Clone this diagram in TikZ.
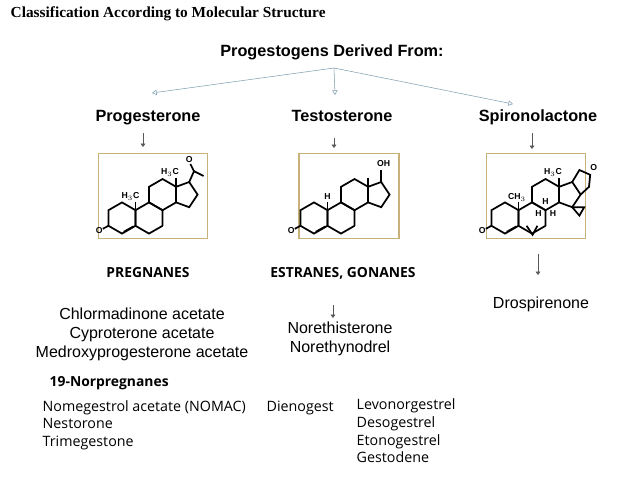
\documentclass[tikz,border=0pt]{standalone}
\usepackage{fontspec}
\setmainfont{Liberation Serif}
\newfontfamily\arial{Liberation Sans}
\newfontfamily\opens{Open Sans}
\usetikzlibrary{arrows.meta,calc}
\definecolor{arr}{HTML}{7F9FB0}
\definecolor{boxc}{HTML}{C8B27A}
\begin{document}
\begin{tikzpicture}[x=0.75pt,y=-0.75pt,
  hd/.style={font=\arial\bfseries\fontsize{12.2}{14}\selectfont,anchor=base},
  lab/.style={font=\arial\fontsize{12}{14.2}\selectfont},
  cls/.style={font=\opens\bfseries\fontsize{10.4}{12}\selectfont},
  lst/.style={font=\opens\fontsize{10.7}{13.2}\selectfont,anchor=west},
  ar/.style={draw=arr,-{Triangle[open,length=3.5pt,width=4pt]}},
  dar/.style={draw=gray!70!black,-{Triangle[length=2.5pt,width=3.5pt]}},
  bx/.style={draw=boxc,line width=0.8pt,fill=white},
  mol/.style={line width=1.3pt},
  ml/.style={font=\arial\bfseries\fontsize{6.5}{7}\selectfont,inner sep=0pt}]
\useasboundingbox (0,0) rectangle (638,478);
\node[anchor=west,font=\bfseries\fontsize{11.5}{13}\selectfont] (title) at (6,14) {Classification According to Molecular Structure};
\node[hd] (top) at (332,57) {Progestogens Derived From:};
\coordinate (o) at (334,68);
\coordinate (a1) at (152,93);
\coordinate (a2) at (335,95);
\coordinate (a3) at (513,104);
\draw[ar] (o) -- (a1);
\draw[ar] (o) -- (a2);
\draw[ar] (o) -- (a3);
\node[hd] (prog) at (148,121) {Progesterone};
\node[hd] (test) at (342,121) {Testosterone};
\node[hd] (spir) at (538,121) {Spironolactone};
\node[bx,minimum width=109*0.75pt,minimum height=85*0.75pt] (b1) at (153,196) {};
\node[bx,minimum width=100*0.75pt,minimum height=85*0.75pt] (b2) at (349,196) {};
\node[bx,minimum width=99*0.75pt,minimum height=85*0.75pt] (b3) at (536,196) {};
\draw[dar] (143,133) -- (143,147);
\draw[dar] (334,138) -- (334,148);
\draw[dar] (532,133) -- (532,149);
% molecules
\foreach \cx/\cy/\k in {122/218/1, 314/218/2, 505/218/3}{
 \begin{scope}[shift={(\cx,\cy)},scale=1.2]
  \draw[mol] (0,0)++(30:13) \foreach \a in {90,150,...,390}{ -- (\a:13)} ;
  \draw[mol] (22.5,0)++(30:13) \foreach \a in {90,150,...,390}{ -- ($(22.5,0)+(\a:13)$)} ;
  \draw[mol] (33.8,-19.5)++(30:13) \foreach \a in {90,150,...,390}{ -- ($(33.8,-19.5)+(\a:13)$)} ;
  \draw[mol] (45.1,-26) -- (56,-30) -- (63,-19.5) -- (56,-9) -- (45.1,-13);
  \draw[mol] (-11.3,6.5) -- (-16,9);
  \draw[mol] (1.5,11.5) -- (9.5,7);
  \node[ml] at (-19,10.5) {O};
  \draw[mol] (11.3,-6.5) -- (11.3,-13);
  \draw[mol] (45.1,-26) -- (45.1,-33);
 \end{scope}}
% progesterone
\begin{scope}[shift={(122,218)},scale=1.2]
 \node[ml] at (7,-18) {H$_3$C}; \node[ml] at (40,-38) {H$_3$C};
 \draw[mol] (56,-30) -- (60,-39) -- (68,-35); \draw[mol] (60,-39) -- (57,-45);
 \node[ml] at (56,-49) {O};
\end{scope}
% testosterone
\begin{scope}[shift={(314,218)},scale=1.2]
 \node[ml] at (11.3,-18) {H};
 \draw[mol] (56,-30) -- (56,-40); \node[ml] at (58,-45) {OH};
\end{scope}
% spironolactone
\begin{scope}[shift={(505,218)},scale=1.2]
 \node[ml] at (10,-17) {CH$_3$}; \node[ml] at (40,-38) {H$_3$C};
 \node[ml] at (33.8,-14) {H}; \node[ml] at (28,-4) {H}; \node[ml] at (40,-4) {H};
 \draw[mol] (18,6.5) -- (23,14) -- (27,6.5);
 \draw[mol] (56,-30) -- (62,-40) -- (71,-36) -- (70,-26) -- (63,-19.5);
 \node[ml] at (74,-42) {O};
 \draw[mol] (56,-9) -- (66,-9) -- (62,-2) -- cycle;
\end{scope}
\node[cls] (preg) at (148,273) {PREGNANES};
\node[cls] (estr) at (343,273) {ESTRANES, GONANES};
\draw[dar] (538,254) -- (538,275);
\node[lab] (dros) at (541,304) {Drospirenone};
\draw[dar] (333,305) -- (333,318);
\node[lab,align=center] (nore) at (340,339) {Norethisterone\\Norethynodrel};
\node[lab,align=center] (chl) at (142,334) {Chlormadinone acetate\\Cyproterone acetate\\Medroxyprogesterone acetate};
\node[cls,anchor=west] (nor) at (45,383) {19-Norpregnanes};
\node[lst,align=left] (nom) at (38,425) {Nomegestrol acetate (NOMAC)\\Nestorone\\Trimegestone};
\node[lst] (die) at (262,408) {Dienogest};
\node[lst,align=left] (lev) at (352,431) {Levonorgestrel\\Desogestrel\\Etonogestrel\\Gestodene};
\end{tikzpicture}
\end{document}
